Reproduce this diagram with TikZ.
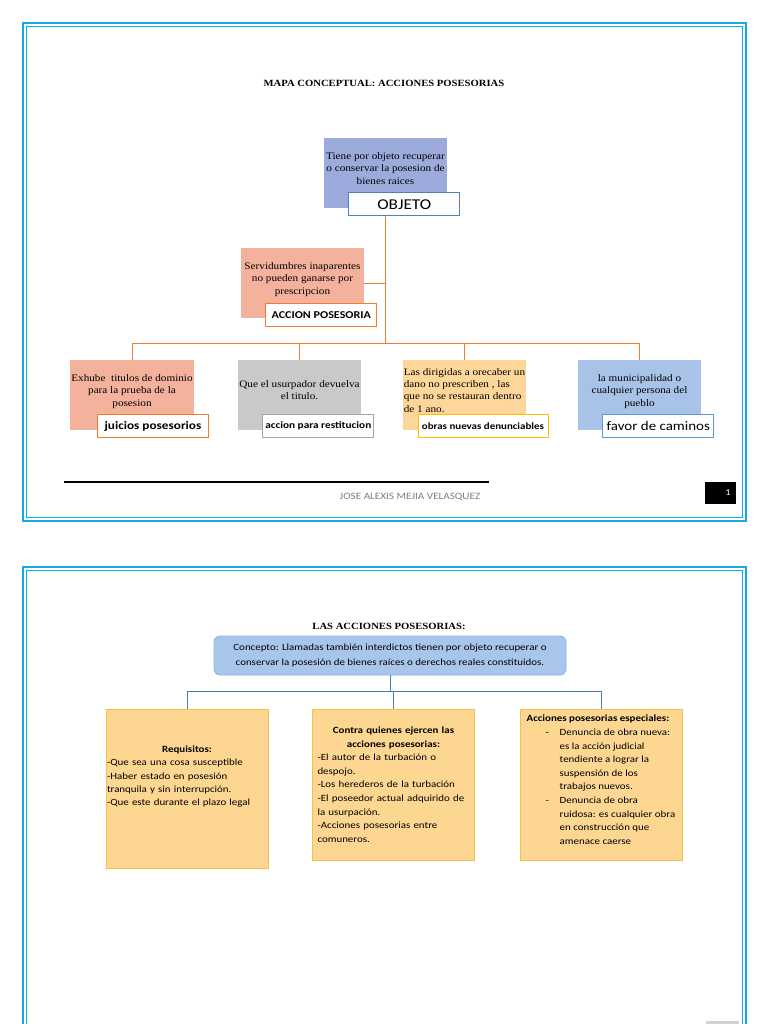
\documentclass[tikz,border=0pt]{standalone}
\usepackage{fontspec}
\setmainfont{Liberation Serif}[FakeStretch=1.12]
\newfontfamily\calibri{Carlito}[FakeStretch=1.15]
\usetikzlibrary{positioning,calc}
\definecolor{framecyan}{RGB}{22,168,228}
\definecolor{objblue}{RGB}{157,171,220}
\definecolor{lblblue}{RGB}{79,129,189}
\definecolor{salmon}{RGB}{244,177,155}
\definecolor{greybox}{RGB}{201,201,201}
\definecolor{greyline}{RGB}{165,165,165}
\definecolor{peach}{RGB}{255,214,153}
\definecolor{gold}{RGB}{255,192,0}
\definecolor{skyblue}{RGB}{168,194,232}
\definecolor{skyline}{RGB}{91,155,213}
\definecolor{lineorange}{RGB}{237,125,49}
\definecolor{namegray}{RGB}{127,127,127}
\definecolor{boxfill}{RGB}{253,214,145}
\definecolor{boxgold}{RGB}{245,192,74}
\definecolor{conceptfill}{RGB}{168,198,235}
\definecolor{conceptline}{RGB}{141,179,226}
\definecolor{lineblue}{RGB}{74,126,187}
\newcommand{\guion}{\makebox[33pt][l]{\hspace*{19pt}-}}
\newcommand{\sangria}{\hspace*{33pt}}
\newcommand{\subir}{\\[-3pt]\mbox{}}

\begin{document}
\begin{tikzpicture}[x=1pt,y=-1pt,
  cbox/.style={rectangle,minimum width=123pt,minimum height=70pt,inner sep=1pt,align=center,font=\fontsize{10}{12.2}\selectfont},
  lbl/.style={draw,fill=white,minimum width=111pt,minimum height=23pt,inner sep=1pt,line width=0.8pt,font=\calibri\bfseries\fontsize{10.5}{13}\selectfont},
  pbox/.style={draw=boxgold,fill=boxfill,line width=0.8pt,minimum width=162pt,inner ysep=3pt,align=left,font=\calibri\fontsize{9.5}{13.6}\selectfont},
  link/.style={draw=lineorange,line width=0.8pt},
  linkb/.style={draw=lineblue,line width=0.7pt}]
\useasboundingbox (0,0) rectangle (768,1024);
\fill[white] (0,0) rectangle (768,1024);
% page frames
\draw[framecyan,line width=2pt] (23,23) rectangle (746,521);
\draw[framecyan,line width=0.7pt] (26.5,26.5) rectangle (742.5,517.5);
\draw[framecyan,line width=2pt] (23,567) rectangle (746,1040);
\draw[framecyan,line width=0.7pt] (26.5,570.5) rectangle (742.5,1040);

% page 1
\node[font=\bfseries\fontsize{9.5}{11}\selectfont] (titulo1) at (384,83) {MAPA CONCEPTUAL: ACCIONES POSESORIAS};
\node[cbox,fill=objblue] (objeto) at (385.5,173) {Tiene por objeto recuperar\\o conservar la posesion de\\bienes raices\subir};
\node[lbl,draw=lblblue,anchor=south east,font=\calibri\fontsize{15}{17}\selectfont] (objlbl) at ([shift={(13,8)}]objeto.south east) {OBJETO};
\node[cbox,fill=salmon] (serv) at (302.5,283) {Servidumbres inaparentes\\no pueden ganarse por\\prescripcion\subir};
\node[lbl,draw=lineorange,anchor=south east] (servlbl) at ([shift={(13,9)}]serv.south east) {ACCION POSESORIA};

\node[cbox,fill=salmon] (juicio) at (132,395) {Exhube\ \ titulos de dominio\\para la prueba de la\\posesion\subir};
\node[cbox,fill=greybox] (restit) at (299.5,395) {Que el usurpador devuelva\\el titulo.\subir};
\node[cbox,fill=peach,align=left] (obras) at (464.5,395) {Las dirigidas a orecaber un\\dano no prescriben , las\\que no se restauran dentro\\de 1 ano.\subir};
\node[cbox,fill=skyblue] (favor) at (639.5,395) {la municipalidad o\\cualquier persona del\\pueblo\subir};

\node[lbl,draw=lineorange,anchor=south east,font=\calibri\bfseries\fontsize{11.5}{13}\selectfont] (juiciolbl) at ([shift={(15,8)}]juicio.south east) {juicios posesorios};
\node[lbl,draw=greyline,anchor=south east,font=\calibri\bfseries\fontsize{9.8}{11}\selectfont] (restitlbl) at ([shift={(13,8)}]restit.south east) {accion para restitucion};
\node[lbl,draw=gold,minimum width=130pt,anchor=south east,font=\calibri\bfseries\fontsize{9.5}{11}\selectfont] (obraslbl) at ([shift={(22,8)}]obras.south east) {obras nuevas denunciables};
\node[lbl,draw=skyline,anchor=south east,font=\calibri\fontsize{13}{15}\selectfont] (favorlbl) at ([shift={(13,8)}]favor.south east) {favor de caminos};

% orange connectors
\coordinate (hub) at (385.5,343);
\draw[link] (objeto.south |- objlbl.south) -- (hub);
\draw[link] (serv.east) -- (serv.east -| hub);
\foreach \b in {juicio,restit,obras,favor}
  \draw[link] (hub) -| (\b.north);

% footer
\draw[line width=1.6pt] (64,482) -- (489,482);
\node[font=\calibri\fontsize{9.7}{11}\selectfont,text=namegray] (autor) at (410,497) {JOSE ALEXIS MEJIA VELASQUEZ};
\fill[black] (705,482) rectangle (736,504);
\node[text=white,font=\calibri\fontsize{9}{10}\selectfont] (pagina) at (728,493) {1};

% page 2
\node[font=\bfseries\fontsize{9.5}{11}\selectfont] (titulo2) at (389,626) {LAS ACCIONES POSESORIAS:};
\node[draw=conceptline,fill=conceptfill,line width=0.8pt,rounded corners=6pt,minimum width=352pt,minimum height=39pt,align=center,font=\calibri\fontsize{9.5}{15}\selectfont] (concepto) at (390,655.5) {Concepto: Llamadas también interdictos tienen por objeto recuperar o\\conservar la posesión de bienes raíces o derechos reales constituidos.};

\node[pbox,minimum height=159pt,inner xsep=1pt,text width=160pt,font=\calibri\fontsize{9.5}{13.4}\selectfont] (requisitos) at (187,788.5) {\makebox[\linewidth][c]{\textbf{Requisitos:}}\\-Que sea una cosa susceptible\\-Haber estado en posesión\\tranquila y sin interrupción.\\-Que este durante el plazo legal\\[12pt]\mbox{}};
\node[pbox,minimum height=151pt,inner xsep=5pt,text width=152pt] (contra) at (393.5,784.5) {\makebox[\linewidth][c]{\textbf{Contra quienes ejercen las}}\\\makebox[\linewidth][c]{\textbf{acciones posesorias:}}\\-El autor de la turbación o\\despojo.\\-Los herederos de la turbación\\-El poseedor actual adquirido de\\la usurpación.\\-Acciones posesorias entre\\comuneros.};
\node[pbox,minimum height=151pt] (especiales) at (601,784.5) {\textbf{Acciones posesorias especiales:}\\\guion Denuncia de obra nueva:\\\sangria es la acción judicial\\\sangria tendiente a lograr la\\\sangria suspensión de los\\\sangria trabajos nuevos.\\\guion Denuncia de obra\\\sangria ruidosa: es cualquier obra\\\sangria en construcción que\\\sangria amenace caerse\\[-4pt]\mbox{}};

% blue connectors
\coordinate (hub2) at (390,691);
\draw[linkb] (concepto.south) -- (hub2);
\foreach \b in {requisitos,contra,especiales}
  \draw[linkb] (hub2) -| (\b.north);

\fill[gray!35] (706,1021) rectangle (739,1030);
\end{tikzpicture}
\end{document}
